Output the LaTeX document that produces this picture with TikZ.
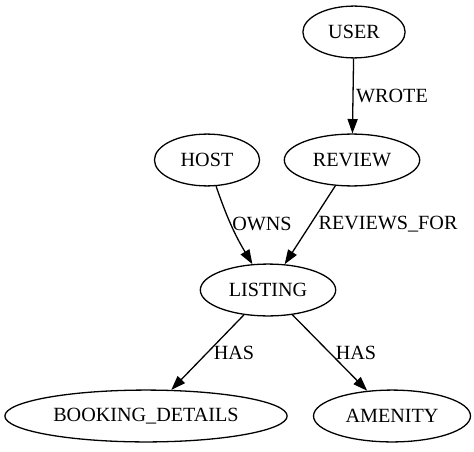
\documentclass[tikz,border=0pt]{standalone}
\usepackage{fontspec}
\setmainfont{Liberation Serif}
\usetikzlibrary{shapes.geometric, arrows.meta}
\tikzstyle{entity}=[shape=ellipse,draw=black,line width=0.9pt,inner sep=0pt,minimum height=36pt,font=\fontsize{14}{16}\selectfont]
\tikzstyle{rel}=[inner sep=0pt,font=\fontsize{14}{16}\selectfont]
\tikzstyle{l}=[draw,line width=0.9pt,-{Triangle[length=10pt,width=7pt]}]

\begin{document}
\begin{tikzpicture}[x=0.6944pt,y=-0.6944pt]
\useasboundingbox (0,0) rectangle (474,451);

% entities
\node[entity, minimum width=71pt] (user) at (354,32) {USER};
\node[entity, minimum width=73pt] (host) at (207,160) {HOST};
\node[entity, minimum width=94pt] (review) at (352,160) {REVIEW};
\node[entity, minimum width=94pt] (listing) at (268,290) {LISTING};
\node[entity, minimum width=196pt] (booking) at (146,416) {BOOKING\_DETAILS};
\node[entity, minimum width=109pt] (amenity) at (392,416) {AMENITY};

% labels
\node[rel] (wrote) at (392,96) {WROTE};
\node[rel] (owns) at (262,224) {OWNS};
\node[rel] (reviewsfor) at (388,224) {REVIEWS\_FOR};
\node[rel] (has1) at (234,353) {HAS};
\node[rel] (has2) at (356,353) {HAS};

%paths
\path [l] (user) -- (review);
\path [l] (host) to[bend right=6] (listing);
\path [l] (review) -- (listing);
\path [l] (listing) -- (booking);
\path [l] (listing) -- (amenity);

\end{tikzpicture}
\end{document}
